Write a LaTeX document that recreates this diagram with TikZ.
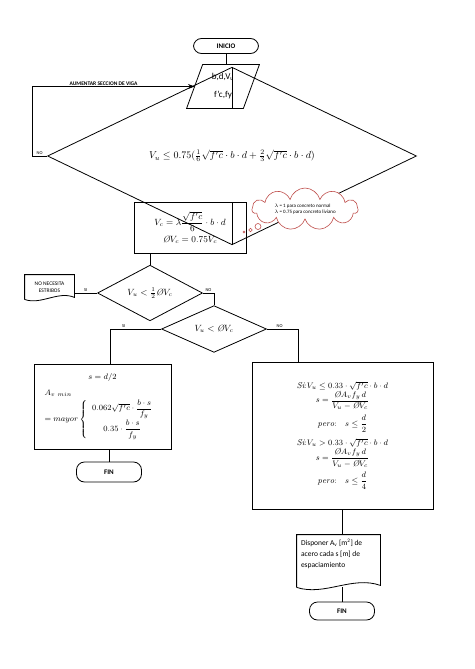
\documentclass[tikz,border=0pt]{standalone}
\usepackage{amsmath}
\usepackage{fontspec}
\newfontfamily\calibri{Carlito}
\usetikzlibrary{arrows.meta, positioning, shapes.geometric, shapes.symbols, calc}
\definecolor{cloudred}{RGB}{192,80,77}
\newcommand{\Ophi}{\mbox{\itshape\O}}

\begin{document}
\begin{tikzpicture}[
    x=1pt, y=-1pt,
    >=Stealth,
    line width=0.8pt,
    terminal/.style={draw, rounded corners=8pt, minimum width=65pt,
                     minimum height=17pt, font=\calibri\fontsize{7}{8}\selectfont\bfseries},
    inout/.style={rectangle, minimum width=56pt, minimum height=43pt, inner sep=0pt,
                  align=center, font=\calibri\fontsize{9}{10}\selectfont},
    decision/.style={draw, diamond, inner sep=0pt,
                     font=\fontsize{9}{10}\selectfont},
    process/.style={draw, rectangle, inner sep=0pt},
    docbox/.style={inner sep=2pt, font=\calibri},
    tag/.style={font=\calibri\fontsize{4.5}{5}\selectfont, inner sep=1pt}
  ]
  \path[use as bounding box, fill=white] (0,0) rectangle (474,669);

  \node[terminal, minimum height=15pt] (inicio) at (226,46) {INICIO};
  \node[inout] (datos) at (223,86.5) {b,d,V\textsubscript{u}\\[8pt] f’c,fy};
  \node[decision, minimum width=369pt, minimum height=73pt,
        font=\fontsize{10}{11}\selectfont] (check1) at (232,156)
    {$V_u \le 0.75(\tfrac{1}{6}\sqrt{f'c}\cdot b\cdot d+\tfrac{2}{3}\sqrt{f'c}\cdot b\cdot d)$};
  \node[process, minimum width=112pt, minimum height=51pt, align=center,
        font=\fontsize{9}{10}\selectfont] (calc1) at (190,227.5)
    {$V_c=\lambda\dfrac{\sqrt{f'c}}{6}\cdot b\cdot d$\\[3pt] $\Ophi V_c=0.75V_c$};
  \node[cloud, draw=cloudred, line width=0.6pt, fill=white,
        cloud puffs=11, aspect=3.6, inner sep=0pt, minimum width=106pt,
        minimum height=28pt, align=left,
        font=\calibri\fontsize{5}{6}\selectfont] (lambda) at (305,209)
    {$\lambda$ = 1 para concreto normal\\ $\lambda$ = 0.75 para concreto liviano};
  \draw[cloudred, line width=0.6pt] (258,226.5) circle (3) (250.5,230) circle (1.8)
    (244,232) circle (1);

  \node[decision, minimum width=105pt, minimum height=49pt] (check2) at (150,293)
    {$V_u<\tfrac{1}{2}\Ophi V_c$};
  \node[docbox] (noest) at (49.5,287)
    {\parbox[c][20pt][c]{45pt}{\centering\fontsize{5.5}{7}\selectfont NO NECESITA\\ESTRIBOS}};
  \node[decision, minimum width=105pt, minimum height=44pt] (check3) at (214,329)
    {$V_u<\Ophi V_c$};

  \node[process, minimum width=137pt, minimum height=85pt,
        font=\fontsize{8}{9}\selectfont] (rectL) at (102.5,406.5)
    {\begin{minipage}{128pt}
       {\centering $s=d/2$\par}
       \vspace{7pt}
       \hspace*{6pt}$A_{v\ min}$\par
       \vspace{2pt}
       \hspace*{6pt}$=mayor\left\{\begin{array}{c}
         0.062\sqrt{f'c}\cdot\dfrac{b\cdot s}{f_y}\\[7pt]
         0.35\cdot\dfrac{b\cdot s}{f_y}
       \end{array}\right.$
     \end{minipage}};
  \node[terminal, minimum height=20pt] (fin1) at (109,472) {FIN};

  \node[process, minimum width=181pt, minimum height=147pt, align=center,
        font=\fontsize{8.5}{10}\selectfont] (rectR) at (342.5,435.5)
    {$\mathit{Si}{:}V_u\le 0.33\cdot\sqrt{f'c}\cdot b\cdot d$\\
     $s=\dfrac{\Ophi A_v f_y\, d}{V_u-\Ophi V_c}$\\[4pt]
     $\mathit{pero}{:}\quad s\le\dfrac{d}{2}$\\[6pt]
     $\mathit{Si}{:}V_u> 0.33\cdot\sqrt{f'c}\cdot b\cdot d$\\
     $s=\dfrac{\Ophi A_v f_y\, d}{V_u-\Ophi V_c}$\\[4pt]
     $\mathit{pero}{:}\quad s\le\dfrac{d}{4}$};
  \node[docbox, inner sep=4pt] (dispone) at (338.5,561)
    {\parbox[c][44pt][t]{75pt}{\fontsize{7.5}{11}\selectfont
       \mbox{Disponer A\textsubscript{v} [m\textsuperscript{2}] de}\\
       \mbox{acero cada s [m] de}\\
       \mbox{espaciamiento}}};
  \node[terminal, minimum height=18pt] (fin2) at (342,611) {FIN};

  % shape outlines
  \draw ($(datos.north west)+(8,0)$) -- ($(datos.north east)+(8,0)$)
    -- ($(datos.south east)+(-8,0)$) -- ($(datos.south west)+(-8,0)$) -- cycle;
  \draw (noest.south west) -- (noest.north west) -- (noest.north east)
    -- ($(noest.south east)+(0,-2)$)
    .. controls +(-16,-7) and +(16,6) .. (noest.south west);
  \draw (dispone.south west) -- (dispone.north west) -- (dispone.north east)
    -- ($(dispone.south east)+(0,-2)$)
    .. controls +(-28,-10) and +(28,9) .. (dispone.south west);

  % connectors
  \draw (inicio.south) -- (inicio.south |- datos.north);
  \draw (check1.north |- datos.south) -- (check1.north);
  \draw[->] (check1.west) -- ++(-15,0) node[tag, above, midway] {NO}
    |- (datos.west) node[tag, above, pos=0.72,
                         font=\calibri\fontsize{5.5}{6}\selectfont\bfseries] {AUMENTAR SECCION DE VIGA};
  \draw (check1.south) -- (check1.south |- calc1.north);
  \draw (calc1.south -| check2.north) -- (check2.north);
  \draw (check2.west) -- (check2.west -| noest.east) node[tag, above, midway] {SI};
  \draw (check2.east) -| (check3.north) node[tag, above, pos=0.25] {NO};
  \draw (check3.west) -| ([xshift=8pt]rectL.north) node[tag, above, pos=0.37] {SI};
  \draw (check3.east) -| ([xshift=-44pt]rectR.north) node[tag, above, pos=0.2] {NO};
  \draw (fin1.north |- rectL.south) -- (fin1.north);
  \draw (rectR.south) -- (rectR.south |- dispone.north);
  \draw (dispone.south -| fin2.north) -- (fin2.north);
\end{tikzpicture}
\end{document}
